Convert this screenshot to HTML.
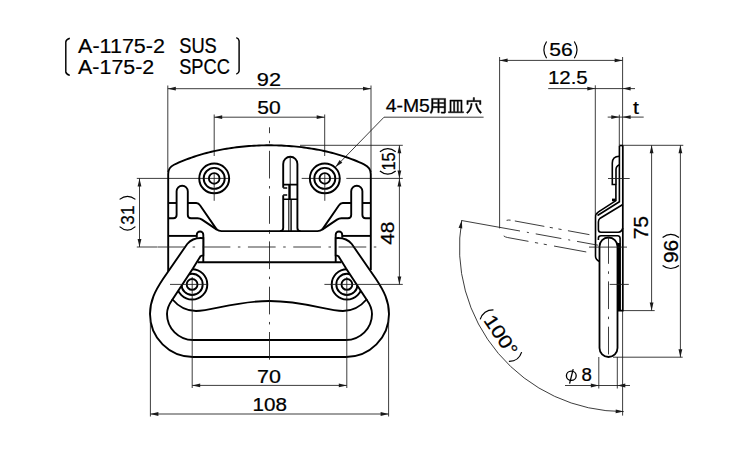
<!DOCTYPE html>
<html><head><meta charset="utf-8"><style>
html,body{margin:0;padding:0;background:#fff;}
svg{display:block;}
</style></head><body>
<svg width="750" height="450" viewBox="0 0 750 450">
<rect width="750" height="450" fill="#fff"/>
<text transform="matrix(1.0364,0,0,1,78.06,52.60)" font-family="Liberation Sans, sans-serif" font-size="20.76" fill="#000" stroke="#000" stroke-width="0.193">A-1175-2</text>
<text transform="matrix(1.0389,0,0,1,78.06,73.70)" font-family="Liberation Sans, sans-serif" font-size="20.62" fill="#000" stroke="#000" stroke-width="0.193">A-175-2</text>
<text transform="matrix(0.8423,0,0,1,179.17,52.79)" font-family="Liberation Sans, sans-serif" font-size="21.75" fill="#000" stroke="#000" stroke-width="0.237">SUS</text>
<text transform="matrix(0.8394,0,0,1,179.17,73.79)" font-family="Liberation Sans, sans-serif" font-size="21.75" fill="#000" stroke="#000" stroke-width="0.238">SPCC</text>
<path d="M69.8,38.2 Q66.2,39.4 65.8,41.8 V72 Q66.2,74.2 69.8,75.4" stroke="#000" stroke-width="1.45" fill="none" />
<path d="M236.3,37.7 Q238.8,38.7 239.1,40.8 V71.2 Q238.8,73.2 236.3,74.2" stroke="#000" stroke-width="1.45" fill="none" />
<line x1="167.80" y1="85.50" x2="167.80" y2="172.00" stroke="#1a1a1a" stroke-width="0.85" />
<line x1="371.00" y1="85.50" x2="371.00" y2="172.00" stroke="#1a1a1a" stroke-width="0.85" />
<line x1="167.80" y1="88.70" x2="371.00" y2="88.70" stroke="#1a1a1a" stroke-width="0.85" />
<path d="M167.80,88.70 L175.80,86.80 L175.80,90.60 Z" fill="#1a1a1a"/>
<path d="M371.00,88.70 L363.00,90.60 L363.00,86.80 Z" fill="#1a1a1a"/>
<text transform="matrix(1.1520,0,0,1,256.81,85.99)" font-family="Liberation Sans, sans-serif" font-size="18.86" fill="#000" stroke="#000" stroke-width="0.217">92</text>
<line x1="214.20" y1="114.50" x2="214.20" y2="156.00" stroke="#1a1a1a" stroke-width="0.85" />
<line x1="324.70" y1="114.50" x2="324.70" y2="156.00" stroke="#1a1a1a" stroke-width="0.85" />
<line x1="214.20" y1="117.20" x2="324.70" y2="117.20" stroke="#1a1a1a" stroke-width="0.85" />
<path d="M214.20,117.20 L222.20,115.30 L222.20,119.10 Z" fill="#1a1a1a"/>
<path d="M324.70,117.20 L316.70,119.10 L316.70,115.30 Z" fill="#1a1a1a"/>
<text transform="matrix(1.1334,0,0,1,257.28,113.99)" font-family="Liberation Sans, sans-serif" font-size="18.57" fill="#000" stroke="#000" stroke-width="0.221">50</text>
<line x1="483.60" y1="117.20" x2="384.00" y2="117.20" stroke="#1a1a1a" stroke-width="0.85" />
<line x1="384.00" y1="117.20" x2="335.40" y2="167.10" stroke="#1a1a1a" stroke-width="0.85" />
<path d="M335.40,167.10 L339.62,160.04 L342.34,162.69 Z" fill="#1a1a1a"/>
<text transform="matrix(1.0619,0,0,1,385.68,112.30)" font-family="Liberation Sans, sans-serif" font-size="18.27" fill="#000" stroke="#000" stroke-width="0.235">4-M5</text>
<path transform="translate(429.337,112.047) scale(0.008960,-0.008352)" d="M1815 1634V27Q1815 -69 1773 -109Q1728 -152 1587 -152Q1452 -152 1342 -139L1311 14Q1467 -2 1587 -2Q1631 -2 1643 11Q1653 23 1653 57V525H1102V-82H946V525H411Q407 313 370 159Q328 -18 205 -186L74 -72Q203 98 235 334Q252 454 252 617V1634ZM412 1493V1151H946V1493ZM412 1014V662H946V1014ZM1653 662V1014H1102V662ZM1653 1151V1493H1102V1151Z" fill="#000" stroke="#000" stroke-width="0.45" vector-effect="non-scaling-stroke"/>
<path transform="translate(447.968,112.581) scale(0.007847,-0.008106)" d="M1799 1552V116H1992V-27H55V116H248V1552ZM405 1411V116H711V1411ZM1642 116V1411H1326V116ZM868 1411V116H1170V1411Z" fill="#000" stroke="#000" stroke-width="0.45" vector-effect="non-scaling-stroke"/>
<path transform="translate(465.711,112.109) scale(0.008017,-0.008286)" d="M1096 1411H1896V910H1730V1264H311V910H147V1411H934V1751H1096ZM86 -45Q355 140 494 441Q603 675 651 1059L819 1020Q762 592 643 346Q496 42 215 -180ZM1853 -164Q1588 61 1417 390Q1296 624 1206 1022L1370 1071Q1447 691 1581 453Q1734 181 1982 -16Z" fill="#000" stroke="#000" stroke-width="0.45" vector-effect="non-scaling-stroke"/>
<line x1="136.80" y1="178.40" x2="229.50" y2="178.40" stroke="#1a1a1a" stroke-width="0.85" />
<line x1="136.80" y1="247.00" x2="157.00" y2="247.00" stroke="#1a1a1a" stroke-width="0.85" />
<line x1="139.50" y1="178.40" x2="139.50" y2="247.00" stroke="#1a1a1a" stroke-width="0.85" />
<path d="M139.50,178.40 L141.40,186.40 L137.60,186.40 Z" fill="#1a1a1a"/>
<path d="M139.50,247.00 L137.60,239.00 L141.40,239.00 Z" fill="#1a1a1a"/>
<text transform="matrix(0,-0.8878,1,0,134.49,224.63)" font-family="Liberation Sans, sans-serif" font-size="19.28" fill="#000" stroke="#000" stroke-width="0.250">31</text>
<path d="M119.6,199.4 Q127.5,193.2 135.4,199.4" stroke="#000" stroke-width="1.2" fill="none" />
<path d="M119.6,226.6 Q127.5,233.6 135.4,226.6" stroke="#000" stroke-width="1.2" fill="none" />
<line x1="300.00" y1="145.30" x2="402.80" y2="145.30" stroke="#1a1a1a" stroke-width="0.85" />
<line x1="301.70" y1="178.40" x2="340.30" y2="178.40" stroke="#1a1a1a" stroke-width="0.85" />
<line x1="346.30" y1="178.40" x2="402.80" y2="178.40" stroke="#1a1a1a" stroke-width="0.85" />
<line x1="399.40" y1="145.30" x2="399.40" y2="284.40" stroke="#1a1a1a" stroke-width="0.85" />
<path d="M399.40,145.30 L401.30,153.30 L397.50,153.30 Z" fill="#1a1a1a"/>
<path d="M399.40,178.40 L397.50,170.40 L401.30,170.40 Z" fill="#1a1a1a"/>
<path d="M399.40,178.40 L401.30,186.40 L397.50,186.40 Z" fill="#1a1a1a"/>
<path d="M399.40,284.40 L397.50,276.40 L401.30,276.40 Z" fill="#1a1a1a"/>
<text transform="matrix(0,-0.8608,1,0,394.69,170.62)" font-family="Liberation Sans, sans-serif" font-size="18.99" fill="#000" stroke="#000" stroke-width="0.250">15</text>
<path d="M379.9,151.7 Q387.8,145.6 395.7,151.7" stroke="#000" stroke-width="1.2" fill="none" />
<path d="M379.9,171.0 Q387.8,177.4 395.7,171.0" stroke="#000" stroke-width="1.2" fill="none" />
<text transform="matrix(0,-1.1369,1,0,394.10,244.75)" font-family="Liberation Sans, sans-serif" font-size="18.29" fill="#000" stroke="#000" stroke-width="0.250">48</text>
<defs><g id="lh"><circle cx="214.2" cy="178.4" r="14.95" stroke="#000" stroke-width="1.95" fill="none"/>
<circle cx="214.2" cy="178.4" r="10.5" stroke="#000" stroke-width="1.9" fill="none"/>
<circle cx="214.2" cy="178.4" r="5.3" stroke="#000" stroke-width="1.9" fill="none"/>
<line x1="214.2" y1="173" x2="214.2" y2="200.8" stroke="#1a1a1a" stroke-width="0.85" />
<path d="M176.6,215 V191.3 A5.6,5.6 0 0 1 187.8,191.3 V215" stroke="#000" stroke-width="1.9" fill="none"/>
<path d="M168,203 H176.6" stroke="#000" stroke-width="1.9" fill="none"/>
<path d="M168,218.2 H173.4 Q176.6,218.2 176.6,215" stroke="#000" stroke-width="1.9" fill="none"/>
<path d="M187.8,215 Q187.8,218.2 191,218.2 H197.6 Q200,218.2 202,219.6 L216.8,229.6 Q218.6,231.1 221.5,231.1 H270" stroke="#000" stroke-width="1.9" fill="none"/>
<path d="M187.8,203 H196.2 Q198.6,203 200,205.2 L216.8,229.6" stroke="#000" stroke-width="1.9" fill="none"/>
<path d="M168,235.9 H196.8" stroke="#000" stroke-width="1.9" fill="none"/>
<path d="M196.8,237.8 V234.8 A3.25,3.25 0 0 1 203.3,234.8 V262.3" stroke="#000" stroke-width="1.9" fill="none"/>
<path d="M197.6,262.3 H270" stroke="#000" stroke-width="1.9" fill="none"/>
<circle cx="192.1" cy="284.4" r="15.2" stroke="#000" stroke-width="1.95" fill="none"/>
<circle cx="192.1" cy="284.4" r="10.6" stroke="#000" stroke-width="1.9" fill="none"/>
<circle cx="192.1" cy="284.4" r="5.4" stroke="#000" stroke-width="1.9" fill="none"/></g></defs>
<use href="#lh"/>
<use href="#lh" transform="matrix(-1 0 0 1 539 0)"/>
<path d="M168.2,271.4 V173.9 Q168.2,167.5 174,164.75 L176.5,163.59 L179.0,162.48 L181.5,161.42 L184.0,160.40 L186.5,159.42 L189.0,158.49 L191.5,157.59 L194.0,156.73 L196.5,155.92 L199.0,155.14 L201.5,154.39 L204.0,153.68 L206.5,153.01 L209.0,152.37 L211.5,151.76 L214.0,151.18 L216.5,150.64 L219.0,150.12 L221.5,149.64 L224.0,149.18 L226.5,148.75 L229.0,148.35 L231.5,147.97 L234.0,147.63 L236.5,147.30 L239.0,147.01 L241.5,146.74 L244.0,146.49 L246.5,146.27 L249.0,146.07 L251.5,145.89 L254.0,145.74 L256.5,145.61 L259.0,145.51 L261.5,145.42 L264.0,145.36 L266.5,145.32 L269.0,145.31 L271.5,145.31 L274.0,145.34 L276.5,145.40 L279.0,145.47 L281.5,145.57 L284.0,145.69 L286.5,145.83 L289.0,145.99 L291.5,146.18 L294.0,146.40 L296.5,146.63 L299.0,146.90 L301.5,147.18 L304.0,147.49 L306.5,147.83 L309.0,148.20 L311.5,148.59 L314.0,149.00 L316.5,149.45 L319.0,149.92 L321.5,150.43 L324.0,150.96 L326.5,151.53 L329.0,152.12 L331.5,152.75 L334.0,153.41 L336.5,154.10 L339.0,154.83 L341.5,155.60 L344.0,156.40 L346.5,157.24 L349.0,158.12 L351.5,159.04 L354.0,160.00 L356.5,161.00 L359.0,162.05 L361.5,163.14 L364.0,164.28 Q370.8,167.5 370.8,173.9 V270" stroke="#000" stroke-width="1.9" fill="none" />
<line x1="290.20" y1="157.50" x2="290.20" y2="231.00" stroke="#000" stroke-width="0.9" />
<path d="M279.9,231.1 Q283.2,231.1 283.2,227.9 V195.2 M283.2,187.8 V163.9 A7.1,7.1 0 0 1 297.4,163.9 V227.9 Q297.4,231.1 300.7,231.1" stroke="#000" stroke-width="1.9" fill="none" />
<path d="M283.2,184.6 H297.4 M283.2,199.3 H297.4" stroke="#000" stroke-width="1.6" fill="none" />
<path d="M283.2,188 H287.2 M283.2,195 H287.2" stroke="#000" stroke-width="1.4" fill="none" />
<path d="M289.3,184.6 V199.3" stroke="#000" stroke-width="2.0" fill="none" />
<path d="M288.6,199.3 V231 M291.5,199.3 V231" stroke="#000" stroke-width="0.8" fill="none" />
<path d="M203.3,238.2 C197,237.6 191,239.5 187.2,244 L163,279 C155,291 150,301 150,314 A43,43 0 0 0 193,357 H346 A43,43 0 0 0 389,314 C389,301 384,291 376,279 L351.8,244 C348,239.5 342,237.6 335.7,238.2 V255.4 Q337.2,255.4 338.5,256.2 Q342.5,262.5 346.1,268.5 L366.5,299.5 C361,306 353,311 343,311 C327,311 304,301 269.5,301 C235,301 212,311 196,311 C186,311 178,306 172.5,299.5 L192.9,268.5 Q196.5,262.5 200.5,256.2 Q201.8,255.4 203.3,255.4 Z" stroke="#000" stroke-width="1.9" fill="#fff" />
<path d="M172.5,299.5 Q167,307 167,314 A26,26 0 0 0 193,340 H346 A26,26 0 0 0 372,314 Q372,307 366.5,299.5" stroke="#000" stroke-width="1.9" fill="none" />
<line x1="170.00" y1="284.40" x2="207.50" y2="284.40" stroke="#1a1a1a" stroke-width="0.85" />
<line x1="324.40" y1="284.40" x2="402.80" y2="284.40" stroke="#1a1a1a" stroke-width="0.85" />
<line x1="269.50" y1="127.30" x2="269.50" y2="360.70" stroke="#1a1a1a" stroke-width="0.85" stroke-dasharray="27.7 7.55 2.5 7.55" stroke-dashoffset="21.8"/>
<line x1="157.00" y1="247.00" x2="376.30" y2="247.00" stroke="#1a1a1a" stroke-width="0.85" stroke-dasharray="27.7 7.55 2.5 7.55" stroke-dashoffset="44.95"/>
<line x1="192.20" y1="277.00" x2="192.20" y2="388.00" stroke="#1a1a1a" stroke-width="0.85" />
<line x1="346.80" y1="277.00" x2="346.80" y2="388.00" stroke="#1a1a1a" stroke-width="0.85" />
<line x1="192.20" y1="385.40" x2="346.80" y2="385.40" stroke="#1a1a1a" stroke-width="0.85" />
<path d="M192.20,385.40 L200.20,383.50 L200.20,387.30 Z" fill="#1a1a1a"/>
<path d="M346.80,385.40 L338.80,387.30 L338.80,383.50 Z" fill="#1a1a1a"/>
<text transform="matrix(1.1653,0,0,1,257.12,382.80)" font-family="Liberation Sans, sans-serif" font-size="18.43" fill="#000" stroke="#000" stroke-width="0.215">70</text>
<line x1="150.40" y1="320.00" x2="150.40" y2="416.50" stroke="#1a1a1a" stroke-width="0.85" />
<line x1="388.60" y1="320.00" x2="388.60" y2="416.50" stroke="#1a1a1a" stroke-width="0.85" />
<line x1="150.40" y1="414.00" x2="388.60" y2="414.00" stroke="#1a1a1a" stroke-width="0.85" />
<path d="M150.40,414.00 L158.40,412.10 L158.40,415.90 Z" fill="#1a1a1a"/>
<path d="M388.60,414.00 L380.60,415.90 L380.60,412.10 Z" fill="#1a1a1a"/>
<text transform="matrix(1.0940,0,0,1,252.45,410.89)" font-family="Liberation Sans, sans-serif" font-size="18.86" fill="#000" stroke="#000" stroke-width="0.229">108</text>
<line x1="499.60" y1="57.00" x2="499.60" y2="228.40" stroke="#1a1a1a" stroke-width="0.85" />
<line x1="622.60" y1="57.00" x2="622.60" y2="145.00" stroke="#1a1a1a" stroke-width="0.85" />
<line x1="499.60" y1="60.40" x2="622.60" y2="60.40" stroke="#1a1a1a" stroke-width="0.85" />
<path d="M499.60,60.40 L507.60,58.50 L507.60,62.30 Z" fill="#1a1a1a"/>
<path d="M622.60,60.40 L614.60,62.30 L614.60,58.50 Z" fill="#1a1a1a"/>
<text transform="matrix(1.1564,0,0,1,549.28,56.20)" font-family="Liberation Sans, sans-serif" font-size="18.29" fill="#000" stroke="#000" stroke-width="0.216">56</text>
<path d="M546.6,41.5 Q541.2,49.9 546.6,58.3" stroke="#000" stroke-width="1.2" fill="none" />
<path d="M574.3,41.5 Q579.7,49.9 574.3,58.3" stroke="#000" stroke-width="1.2" fill="none" />
<line x1="595.30" y1="85.30" x2="595.30" y2="216.00" stroke="#1a1a1a" stroke-width="0.85" />
<line x1="548.20" y1="88.60" x2="635.00" y2="88.60" stroke="#1a1a1a" stroke-width="0.85" />
<path d="M595.30,88.60 L587.30,90.50 L587.30,86.70 Z" fill="#1a1a1a"/>
<path d="M622.60,88.60 L630.60,86.70 L630.60,90.50 Z" fill="#1a1a1a"/>
<text transform="matrix(1.1170,0,0,1,547.97,84.10)" font-family="Liberation Sans, sans-serif" font-size="18.29" fill="#000" stroke="#000" stroke-width="0.224">12.5</text>
<line x1="619.30" y1="114.70" x2="619.30" y2="145.00" stroke="#1a1a1a" stroke-width="0.85" />
<line x1="607.70" y1="117.10" x2="643.70" y2="117.10" stroke="#1a1a1a" stroke-width="0.85" />
<path d="M619.30,117.10 L611.30,119.00 L611.30,115.20 Z" fill="#1a1a1a"/>
<path d="M622.60,117.10 L630.60,115.20 L630.60,119.00 Z" fill="#1a1a1a"/>
<text transform="matrix(1.1884,0,0,1,633.10,113.73)" font-family="Liberation Sans, sans-serif" font-size="17.96" fill="#000" stroke="#000" stroke-width="0.210">t</text>
<line x1="622.60" y1="145.30" x2="683.30" y2="145.30" stroke="#1a1a1a" stroke-width="0.85" />
<line x1="620.00" y1="310.60" x2="654.70" y2="310.60" stroke="#1a1a1a" stroke-width="0.85" />
<line x1="613.00" y1="357.20" x2="682.70" y2="357.20" stroke="#1a1a1a" stroke-width="0.85" />
<line x1="651.60" y1="145.30" x2="651.60" y2="310.60" stroke="#1a1a1a" stroke-width="0.85" />
<path d="M651.60,145.30 L653.50,153.30 L649.70,153.30 Z" fill="#1a1a1a"/>
<path d="M651.60,310.60 L649.70,302.60 L653.50,302.60 Z" fill="#1a1a1a"/>
<line x1="680.40" y1="145.30" x2="680.40" y2="357.20" stroke="#1a1a1a" stroke-width="0.85" />
<path d="M680.40,145.30 L682.30,153.30 L678.50,153.30 Z" fill="#1a1a1a"/>
<path d="M680.40,357.20 L678.50,349.20 L682.30,349.20 Z" fill="#1a1a1a"/>
<text transform="matrix(0,-1.0682,1,0,647.98,239.35)" font-family="Liberation Sans, sans-serif" font-size="19.71" fill="#000" stroke="#000" stroke-width="0.250">75</text>
<text transform="matrix(0,-1.0458,1,0,677.98,263.05)" font-family="Liberation Sans, sans-serif" font-size="19.99" fill="#000" stroke="#000" stroke-width="0.250">96</text>
<path d="M662.6,237.4 Q670.8,231.4 679.0,237.4" stroke="#000" stroke-width="1.2" fill="none" />
<path d="M662.6,265.4 Q670.8,271.6 679.0,265.4" stroke="#000" stroke-width="1.2" fill="none" />
<line x1="598.80" y1="357.00" x2="598.80" y2="388.50" stroke="#1a1a1a" stroke-width="0.85" />
<line x1="617.30" y1="357.00" x2="617.30" y2="388.50" stroke="#1a1a1a" stroke-width="0.85" />
<line x1="565.00" y1="385.50" x2="630.00" y2="385.50" stroke="#1a1a1a" stroke-width="0.85" />
<path d="M598.80,385.50 L590.80,387.40 L590.80,383.60 Z" fill="#1a1a1a"/>
<path d="M617.30,385.50 L625.30,383.60 L625.30,387.40 Z" fill="#1a1a1a"/>
<ellipse cx="571.3" cy="375.8" rx="4.9" ry="4.6" stroke="#000" stroke-width="1.3" fill="none"/>
<line x1="573.20" y1="369.20" x2="569.60" y2="383.60" stroke="#000" stroke-width="1.3" />
<text transform="matrix(1.0274,0,0,1,581.61,380.50)" font-family="Liberation Sans, sans-serif" font-size="18.15" fill="#000" stroke="#000" stroke-width="0.243">8</text>
<line x1="622.60" y1="145.00" x2="622.60" y2="415.60" stroke="#1a1a1a" stroke-width="0.85" />
<path d="M622.8,145.5 V310.6 H617.5" stroke="#000" stroke-width="1.7" fill="none" />
<path d="M619.4,145.5 H622.8" stroke="#000" stroke-width="1.7" fill="none" />
<path d="M619.4,145.5 V201.8 L597.5,215.5" stroke="#000" stroke-width="1.6" fill="none" />
<path d="M619.4,156.3 C615,156.5 612.3,159 612.3,163 V184.5 H615.9" stroke="#000" stroke-width="1.6" fill="none" />
<path d="M619.4,164.7 Q616,166 616,169.5 V184.5" stroke="#000" stroke-width="1.6" fill="none" />
<path d="M615.9,184 V200.6 L598.5,211.8 Q595.5,213.8 595.5,217 V256 Q595.5,259.5 599.4,261.5" stroke="#000" stroke-width="1.6" fill="none" />
<rect x="612" y="198.6" width="3.6" height="2.6" fill="#000"/>
<line x1="608.00" y1="178.50" x2="629.70" y2="178.50" stroke="#1a1a1a" stroke-width="0.85" />
<path d="M622.8,204.5 L600.2,218.2 Q598.4,219.5 598.4,222 V229.5 Q598.4,232.2 601,232.2 H618.3 Q621.8,232 622.8,228" stroke="#000" stroke-width="1.6" fill="none" />
<path d="M598.4,240 V238.2 Q598.4,235.7 601,235.7 H617.6 Q620.1,235.7 620.1,238.5 V310.6" stroke="#000" stroke-width="1.6" fill="none" />
<rect x="617.2" y="243" width="3.2" height="67.6" fill="#000"/>
<path d="M599.5,246.5 A9,9 0 0 1 617.5,246.5 V348 A9,9 0 0 1 599.5,348 Z" stroke="#000" stroke-width="1.8" fill="none" />
<line x1="608.50" y1="237.00" x2="608.50" y2="357.00" stroke="#1a1a1a" stroke-width="0.85" stroke-dasharray="27.7 7.55 2.5 7.55" stroke-dashoffset="0.9"/>
<line x1="609.70" y1="284.40" x2="628.80" y2="284.40" stroke="#1a1a1a" stroke-width="0.85" />
<line x1="589.00" y1="247.10" x2="627.00" y2="247.10" stroke="#1a1a1a" stroke-width="0.85" />
<path d="M623.70,411.60 A164.2,164.2 0 0 1 461.75,220.30" stroke="#1a1a1a" stroke-width="0.85" fill="none" />
<path d="M623.70,411.60 L615.66,413.34 L615.74,409.54 Z" fill="#1a1a1a"/>
<path d="M461.75,220.30 L462.28,228.50 L458.54,227.87 Z" fill="#1a1a1a"/>
<line x1="461.50" y1="220.50" x2="520.00" y2="231.00" stroke="#1a1a1a" stroke-width="0.85" />
<line x1="520.00" y1="231.00" x2="598.00" y2="245.20" stroke="#1a1a1a" stroke-width="0.85" stroke-dasharray="0 7 2 7 26 0"/>
<path d="M506.60,220.36 A8.8,8.8 0 0 1 510.55,220.18 L589.43,234.65" stroke="#1a1a1a" stroke-width="0.85" fill="none" stroke-dasharray="4 4.3 30 5.5 3.2 5.6 3.2 6.5 40"/>
<path d="M503.74,235.91 A8.8,8.8 0 0 0 507.37,237.49 L586.26,251.96" stroke="#1a1a1a" stroke-width="0.85" fill="none" stroke-dasharray="25.4 6.6 3.2 5.7 3.2 7.3 40"/>
<g transform="translate(498.4,331.6) rotate(56)"><text transform="matrix(1.1582,0,0,1,-18.15,6.47)" font-family="Liberation Sans, sans-serif" font-size="18.79" fill="#000" stroke="#000" stroke-width="0.2">100°</text><path d="M-20.3,8.3 Q-26.3,0.1 -20.7,-8.0" stroke="#000" stroke-width="1.2" fill="none"/><path d="M30.5,7.9 Q36.1,0 30.0,-7.8" stroke="#000" stroke-width="1.2" fill="none"/></g>
</svg></body></html>
